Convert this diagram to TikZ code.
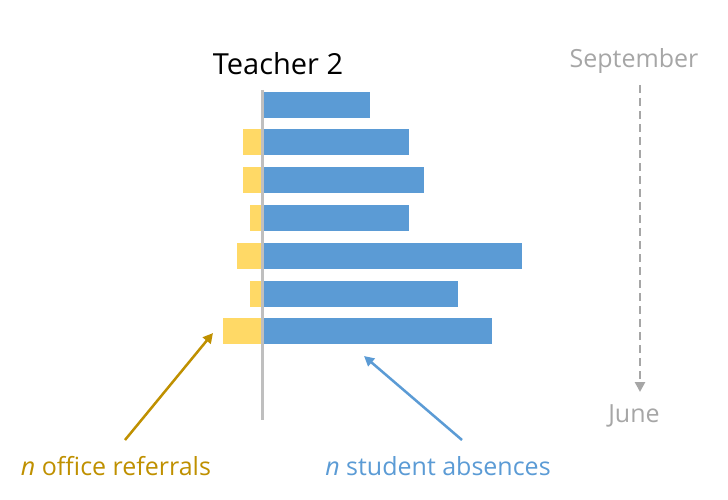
\documentclass[tikz,border=0pt]{standalone}
\usepackage{fontspec}
\setmainfont{Open Sans}
\usetikzlibrary{arrows.meta}
\definecolor{bblue}{HTML}{5B9BD5}
\definecolor{byel}{HTML}{FFD966}
\definecolor{gold}{HTML}{BF9000}
\definecolor{lgray}{HTML}{A6A6A6}
\definecolor{axg}{HTML}{BFBFBF}
\begin{document}
\begin{tikzpicture}[x=1pt,y=-1pt,
  lbl/.style={font=\fontsize{25}{28}\selectfont}]
\useasboundingbox (0,0) rectangle (728,500);
\foreach \t/\e/\l [count=\i] in {92/370/262,129/409/243,167/424/243,205/409/250,243/522/237,281/458/250,318/492/223}{
  \fill[bblue] (264,\t) rectangle (\e,\t+26);
  \fill[byel] (\l,\t) rectangle (262,\t+26);
}
\draw[axg,line width=3pt] (262,90) -- (262,420);
\node[font=\fontsize{29}{32}\selectfont] (title) at (278,64) {Teacher 2};
\node[lbl,lgray] (sep) at (634,61) {September};
\node[lbl,lgray] (jun) at (634,416) {June};
\draw[lgray,line width=2.5pt,dash pattern=on 8pt off 5pt,-{Triangle[length=10pt,width=10pt]}] (640,85) -- (640,392);
\node[lbl,gold] (off) at (116,466) {\textit{n} office referrals};
\node[lbl,bblue] (stu) at (438,466) {\textit{n} student absences};
\coordinate (ot) at (213,333);
\coordinate (st) at (364,356);
\draw[gold,line width=2.5pt,-{Triangle[length=10pt,width=10pt]}] (125,440) -- (ot);
\draw[bblue,line width=2.5pt,-{Triangle[length=10pt,width=10pt]}] (462,440) -- (st);
\end{tikzpicture}
\end{document}
